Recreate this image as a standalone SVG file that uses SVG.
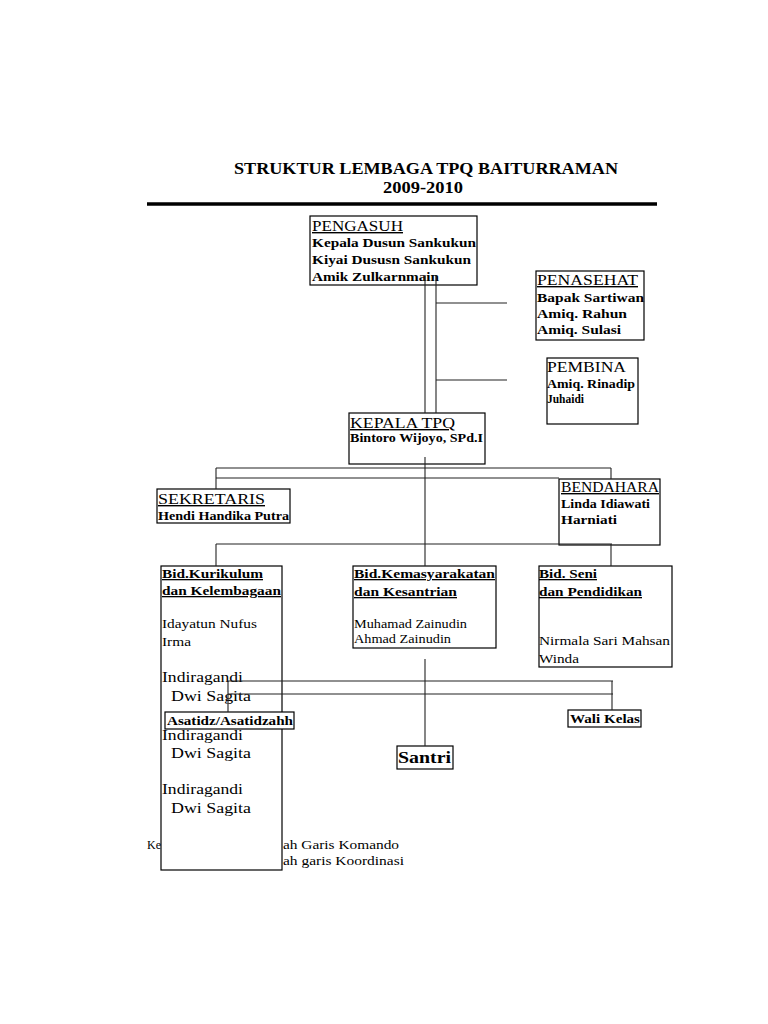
<svg xmlns="http://www.w3.org/2000/svg" width="768" height="1024" viewBox="0 0 768 1024">
<style>
.box{fill:#fff;stroke:#000;stroke-width:1.2}
.ln{stroke:#222;stroke-width:1.1;fill:none}
text{font-family:"Liberation Serif","Times New Roman",serif;fill:#000}
.b{font-weight:bold;font-size:13px}
.h{font-size:14px;text-decoration:underline}
.hb{font-weight:bold;font-size:13px;text-decoration:underline}
.r{font-size:13px}
.big{font-size:15px}
.t{font-weight:bold;font-size:17px}
</style>
<rect width="768" height="1024" fill="#fff"/>
<g id="title">
<text class="t" x="234" y="174" textLength="384" lengthAdjust="spacingAndGlyphs">STRUKTUR LEMBAGA TPQ BAITURRAMAN</text>
<text class="t" x="383" y="193" textLength="80" lengthAdjust="spacingAndGlyphs">2009-2010</text>
<line x1="147" y1="204" x2="657" y2="204" stroke="#000" stroke-width="3.5"/>
</g>
<g id="pengasuh">
<rect class="box" x="310" y="216" width="167" height="69"/>
<text class="h" x="312" y="231" textLength="91" lengthAdjust="spacingAndGlyphs">PENGASUH</text>
<text class="b" x="312" y="247" textLength="164" lengthAdjust="spacingAndGlyphs">Kepala Dusun Sankukun</text>
<text class="b" x="312" y="264" textLength="159" lengthAdjust="spacingAndGlyphs">Kiyai Dususn Sankukun</text>
<text class="b" x="312" y="281" textLength="127" lengthAdjust="spacingAndGlyphs">Amik Zulkarnmain</text>
</g>
<g id="penasehat">
<rect class="box" x="536" y="271" width="108" height="69"/>
<text class="h" x="537" y="285" textLength="101" lengthAdjust="spacingAndGlyphs">PENASEHAT</text>
<text class="b" x="537" y="302" textLength="107" lengthAdjust="spacingAndGlyphs">Bapak Sartiwan</text>
<text class="b" x="537" y="318" textLength="90" lengthAdjust="spacingAndGlyphs">Amiq. Rahun</text>
<text class="b" x="537" y="334" textLength="84" lengthAdjust="spacingAndGlyphs">Amiq. Sulasi</text>
</g>
<g id="pembina">
<rect class="box" x="547" y="358" width="91" height="66"/>
<text x="547" y="372" font-size="14" textLength="79" lengthAdjust="spacingAndGlyphs">PEMBINA</text>
<text class="b" x="547" y="388" font-size="12" textLength="88" lengthAdjust="spacingAndGlyphs">Amiq. Rinadip</text>
<text class="b" x="547" y="403" font-size="12" textLength="37" lengthAdjust="spacingAndGlyphs">Juhaidi</text>
</g>
<g id="kepala">
<rect class="box" x="349" y="413" width="136" height="51"/>
<text class="h" x="350" y="428" textLength="105" lengthAdjust="spacingAndGlyphs">KEPALA TPQ</text>
<text class="b" x="350" y="442" font-size="12" textLength="133" lengthAdjust="spacingAndGlyphs">Bintoro Wijoyo, SPd.I</text>
</g>
<g id="sekretaris">
<rect class="box" x="157" y="489" width="133" height="34"/>
<text class="h" x="158" y="504" textLength="107" lengthAdjust="spacingAndGlyphs">SEKRETARIS</text>
<text class="b" x="158" y="520" textLength="131" lengthAdjust="spacingAndGlyphs">Hendi Handika Putra</text>
</g>
<g id="bendahara">
<rect class="box" x="559" y="479" width="101" height="66"/>
<text class="h" x="561" y="492" textLength="98" lengthAdjust="spacingAndGlyphs">BENDAHARA</text>
<text class="b" x="561" y="508" textLength="89" lengthAdjust="spacingAndGlyphs">Linda Idiawati</text>
<text class="b" x="561" y="524" textLength="56" lengthAdjust="spacingAndGlyphs">Harniati</text>
</g>
<g id="legend">
<text class="r" x="147" y="849" textLength="14" lengthAdjust="spacingAndGlyphs">Ke</text>
<text class="r" x="283" y="849" textLength="116" lengthAdjust="spacingAndGlyphs">ah Garis Komando</text>
<text class="r" x="283" y="865" textLength="121" lengthAdjust="spacingAndGlyphs">ah garis Koordinasi</text>
</g>
<g id="kurikulum">
<rect class="box" x="161" y="566" width="121" height="304"/>
<text class="hb" x="162" y="578" textLength="101" lengthAdjust="spacingAndGlyphs">Bid.Kurikulum</text>
<text class="hb" x="162" y="595" textLength="119" lengthAdjust="spacingAndGlyphs">dan Kelembagaan</text>
<text class="r" x="162" y="628" textLength="95" lengthAdjust="spacingAndGlyphs">Idayatun Nufus</text>
<text class="r" x="162" y="646" textLength="29" lengthAdjust="spacingAndGlyphs">Irma</text>
<text class="big" x="162" y="682" textLength="81" lengthAdjust="spacingAndGlyphs">Indiragandi</text>
<text class="big" x="171" y="701" textLength="80" lengthAdjust="spacingAndGlyphs">Dwi Sagita</text>
<text class="big" x="162" y="740" textLength="81" lengthAdjust="spacingAndGlyphs">Indiragandi</text>
<text class="big" x="171" y="758" textLength="80" lengthAdjust="spacingAndGlyphs">Dwi Sagita</text>
<text class="big" x="162" y="794" textLength="81" lengthAdjust="spacingAndGlyphs">Indiragandi</text>
<text class="big" x="171" y="813" textLength="80" lengthAdjust="spacingAndGlyphs">Dwi Sagita</text>
</g>
<g id="kemasyarakatan">
<rect class="box" x="353" y="566" width="143" height="82"/>
<text class="hb" x="354" y="578" textLength="141" lengthAdjust="spacingAndGlyphs">Bid.Kemasyarakatan</text>
<text class="hb" x="354" y="596" textLength="103" lengthAdjust="spacingAndGlyphs">dan Kesantrian</text>
<text x="354" y="628" font-size="12" textLength="113" lengthAdjust="spacingAndGlyphs">Muhamad Zainudin</text>
<text x="354" y="643" font-size="12" textLength="97" lengthAdjust="spacingAndGlyphs">Ahmad Zainudin</text>
</g>
<g id="seni">
<rect class="box" x="539" y="566" width="133" height="101"/>
<text class="hb" x="539" y="578" textLength="58" lengthAdjust="spacingAndGlyphs">Bid. Seni</text>
<text class="hb" x="539" y="596" textLength="103" lengthAdjust="spacingAndGlyphs">dan Pendidikan</text>
<text x="539" y="645" font-size="12" textLength="131" lengthAdjust="spacingAndGlyphs">Nirmala Sari Mahsan</text>
<text x="539" y="663" font-size="12" textLength="40" lengthAdjust="spacingAndGlyphs">Winda</text>
</g>
<g id="asatidz">
<rect class="box" x="165" y="712" width="129" height="17"/>
<text class="b" x="167" y="725" textLength="126" lengthAdjust="spacingAndGlyphs">Asatidz/Asatidzahh</text>
</g>
<g id="walikelas">
<rect class="box" x="568" y="710" width="73" height="17"/>
<text class="b" x="570" y="723" textLength="70" lengthAdjust="spacingAndGlyphs">Wali Kelas</text>
</g>
<g id="santri">
<rect class="box" x="397" y="746" width="56" height="23"/>
<text class="t" x="398" y="763" textLength="53" lengthAdjust="spacingAndGlyphs">Santri</text>
</g>
<g id="connectors">
<line class="ln" x1="425" y1="275" x2="425" y2="413"/>
<line class="ln" x1="436" y1="275" x2="436" y2="413"/>
<line class="ln" x1="436" y1="303" x2="507" y2="303"/>
<line class="ln" x1="436" y1="380" x2="507" y2="380"/>
<line class="ln" x1="425" y1="457" x2="425" y2="566"/>
<line class="ln" x1="216" y1="468" x2="611" y2="468"/>
<line class="ln" x1="216" y1="478" x2="559" y2="478"/>
<line class="ln" x1="216" y1="468" x2="216" y2="489"/>
<line class="ln" x1="611" y1="468" x2="611" y2="479"/>
<line class="ln" x1="216" y1="544" x2="612" y2="544"/>
<line class="ln" x1="216" y1="544" x2="216" y2="566"/>
<line class="ln" x1="611" y1="544" x2="611" y2="566"/>
<line class="ln" x1="425" y1="659" x2="425" y2="746"/>
<line class="ln" x1="228" y1="681" x2="613" y2="681"/>
<line class="ln" x1="228" y1="694" x2="613" y2="694"/>
<line class="ln" x1="228" y1="681" x2="228" y2="712"/>
<line class="ln" x1="612" y1="681" x2="612" y2="710"/>
</g>
</svg>
